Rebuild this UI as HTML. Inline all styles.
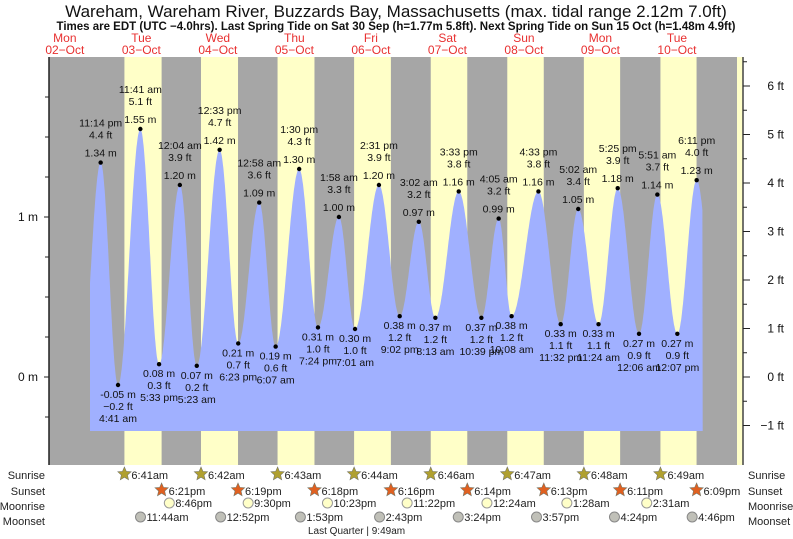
<!DOCTYPE html>
<html><head><meta charset="utf-8"><style>
body{margin:0;background:#fff;}
svg{display:block;font-family:"Liberation Sans",sans-serif;}
</style></head><body>
<svg id="chart" width="793" height="539" viewBox="0 0 793 539">
<text x="396" y="17" font-size="17" text-anchor="middle" fill="#111">Wareham, Wareham River, Buzzards Bay, Massachusetts (max. tidal range 2.12m 7.0ft)</text>
<text x="396" y="30" font-size="11.5" font-weight="bold" text-anchor="middle" fill="#111">Times are EDT (UTC −4.0hrs). Last Spring Tide on Sat 30 Sep (h=1.77m 5.8ft). Next Spring Tide on Sun 15 Oct (h=1.48m 4.9ft)</text>
<rect x="49" y="57" width="688" height="408" fill="#a6a6a6"/>
<rect x="737" y="57" width="6" height="408" fill="#ffffc8"/>
<g id="bands"></g>
<path id="water" fill="#a0b0ff"/>
<g id="labels" font-size="10.5" fill="#111" text-anchor="middle"></g>
<line x1="49" y1="57" x2="49" y2="465" stroke="#222" stroke-width="1.5"/>
<line x1="743" y1="57" x2="743" y2="465" stroke="#444" stroke-width="1.5"/>
<g id="axes" font-size="12" fill="#111"></g>
<g id="days" font-size="12" fill="#e83030" text-anchor="middle"></g>
<g id="astro" font-size="11" fill="#222"></g>
</svg>
<script>
const NS="http://www.w3.org/2000/svg";
// tide extremes: hours since Mon 02-Oct 00:00
const tideHours=[23.23,28.68,35.68,41.55,48.07,53.38,60.55,66.38,72.97,78.12,85.5,91.4,97.97,103.02,110.52,117.03,123.03,128.22,135.55,142.65,148.08,152.13,160.55,167.53,173.03,179.4,185.42,192.1,197.85,204.12,210.18];
const tideMeters=[1.34,-0.05,1.55,0.08,1.20,0.07,1.42,0.21,1.09,0.19,1.30,0.31,1.00,0.30,1.20,0.38,0.97,0.37,1.16,0.37,0.99,0.38,1.16,0.33,1.05,0.33,1.18,0.27,1.14,0.27,1.23];
const tideFeet=["4.4","−0.2","5.1","0.3","3.9","0.2","4.7","0.7","3.6","0.6","4.3","1.0","3.3","1.0","3.9","1.2","3.2","1.2","3.8","1.2","3.2","1.2","3.8","1.1","3.4","1.1","3.9","0.9","3.7","0.9","4.0"];
const tideTimes=["11:14 pm","4:41 am","11:41 am","5:33 pm","12:04 am","5:23 am","12:33 pm","6:23 pm","12:58 am","6:07 am","1:30 pm","7:24 pm","1:58 am","7:01 am","2:31 pm","9:02 pm","3:02 am","8:13 am","3:33 pm","10:39 pm","4:05 am","10:08 am","4:33 pm","11:32 pm","5:02 am","11:24 am","5:25 pm","12:06 am","5:51 am","12:07 pm","6:11 pm"];
const dayNames=["Mon","Tue","Wed","Thu","Fri","Sat","Sun","Mon","Tue"];
const dayDates=["02−Oct","03−Oct","04−Oct","05−Oct","06−Oct","07−Oct","08−Oct","09−Oct","10−Oct"];
const sunriseH=[30.68,54.70,78.72,102.73,126.77,150.78,174.80,198.82];
const sunsetH=[42.35,66.32,90.30,114.27,138.23,162.22,186.18,210.15];
const sunriseLbl=["6:41am","6:42am","6:43am","6:44am","6:46am","6:47am","6:48am","6:49am"];
const sunsetLbl=["6:21pm","6:19pm","6:18pm","6:16pm","6:14pm","6:13pm","6:11pm","6:09pm"];
const moonriseH=[44.77,69.5,94.38,119.37,144.4,169.47,194.52];
const moonriseLbl=["8:46pm","9:30pm","10:23pm","11:22pm","12:24am","1:28am","2:31am"];
const moonsetH=[35.73,60.87,85.88,110.72,135.4,159.95,184.4,208.77];
const moonsetLbl=["11:44am","12:52pm","1:53pm","2:43pm","3:24pm","3:57pm","4:24pm","4:46pm"];
const meterTicks=[0,1];
const feetTicks=[-1,0,1,2,3,4,5,6];

const X=h=>26.6+h*3.188;
const Y=m=>377-m*160;
function el(tag,attrs,parent,text){const e=document.createElementNS(NS,tag);for(const k in attrs)e.setAttribute(k,attrs[k]);if(text!==undefined)e.textContent=text;parent.appendChild(e);return e;}

// day bands
const bands=document.getElementById('bands');
for(let i=0;i<sunriseH.length;i++){
  const r=el('rect',{x:X(sunriseH[i]),y:57,width:X(sunsetH[i])-X(sunriseH[i]),height:408,fill:'#ffffc8'},bands);
  
  
}
// water curve
const ext=[{h:tideHours[0]-6.2,m:0.0}].concat(tideHours.map((h,i)=>({h,m:tideMeters[i]}))).concat([{h:216.3,m:0.3}]);
function level(t){for(let i=0;i<ext.length-1;i++){if(t>=ext[i].h&&t<=ext[i+1].h){const f=(t-ext[i].h)/(ext[i+1].h-ext[i].h);return ext[i].m+(ext[i+1].m-ext[i].m)*(1-Math.cos(Math.PI*f))/2;}}return 0;}
const t0=(90-26.6)/3.188,t1=(702.7-26.6)/3.188;
let d=`M${X(t0)},431`;
for(let t=t0;t<=t1;t+=0.1)d+=` L${X(t).toFixed(1)},${Y(level(t)).toFixed(1)}`;
d+=` L${X(t1)},431 Z`;
document.getElementById('water').setAttribute('d',d);
// labels
const lg=document.getElementById('labels');
tideHours.forEach((h,i)=>{
  const x=X(h),y=Y(tideMeters[i]);
  const dot=el('circle',{cx:x,cy:y,r:2.2,fill:'#000'},lg);
  
  
  const high=i%2===0;
  const ys=high?[y-36,y-24,y-6]:[y+37,y+25,y+13];
  const t1e=el('text',{x:x,y:ys[0]},lg,tideTimes[i]);
  
  
  const t2e=el('text',{x:x,y:ys[1]},lg,tideFeet[i]+" ft");
  
  
  const t3e=el('text',{x:x,y:ys[2]},lg,tideMeters[i].toFixed(2)+" m");
  
  
});
// axes
const ax=document.getElementById('axes');
meterTicks.forEach(m=>{
  const y=Y(m);
  el('line',{x1:44,y1:y,x2:49,y2:y,stroke:'#222'},ax);
  const t=el('text',{x:38,y:y+4,'text-anchor':'end'},ax,m+" m");
  
  
});
for(let m=-0.25;m<=1.75;m+=0.25){el('line',{x1:45,y1:Y(m),x2:49,y2:Y(m),stroke:'#222'},ax);}
feetTicks.forEach(f=>{
  const y=377-f*48.5;
  el('line',{x1:743,y1:y,x2:750,y2:y,stroke:'#222'},ax);
  el('line',{x1:743,y1:y-24.25,x2:747,y2:y-24.25,stroke:'#222'},ax);
  const t=el('text',{x:784,y:y+4,'text-anchor':'end'},ax,(f<0?"−"+(-f):f)+" ft");
  
  
});
// day labels
const dg=document.getElementById('days');
dayNames.forEach((n,i)=>{
  const x=X(i*24+12);
  const a=el('text',{x:x,y:42},dg,n);
  
  
  const b=el('text',{x:x,y:54},dg,dayDates[i]);
  
  
});
// astro rows
const ag=document.getElementById('astro');
const rows=[["Sunrise",475],["Sunset",491],["Moonrise",506],["Moonset",521]];
rows.forEach(([n,y])=>{
  const a=el('text',{x:45,y:y+4,'text-anchor':'end'},ag,n);
  
  
  const b=el('text',{x:748,y:y+4},ag,n);
  
  
});
function star(x,y,fill){let p="";for(let k=0;k<10;k++){const r=k%2?3.2:7,a=-Math.PI/2+k*Math.PI/5;p+=(x+r*Math.cos(a)).toFixed(1)+","+(y+r*Math.sin(a)).toFixed(1)+" ";}return el('polygon',{points:p,fill:fill,stroke:'#776',"stroke-width":0.6},ag);}
sunriseH.forEach((h,i)=>{const x=X(h);const s=star(x,474,'#b0a030');const t=el('text',{x:x+7,y:479},ag,sunriseLbl[i]);});
sunsetH.forEach((h,i)=>{const x=X(h);const s=star(x,490,'#e06020');const t=el('text',{x:x+7,y:495},ag,sunsetLbl[i]);});
moonriseH.forEach((h,i)=>{const x=X(h);const c=el('circle',{cx:x,cy:503,r:5,fill:'#ffffc8',stroke:'#999'},ag);const t=el('text',{x:x+6,y:507},ag,moonriseLbl[i]);});
moonsetH.forEach((h,i)=>{const x=X(h);const c=el('circle',{cx:x,cy:517,r:5,fill:'#c0c0b8',stroke:'#888'},ag);const t=el('text',{x:x+6,y:521},ag,moonsetLbl[i]);});
const lq=el('text',{x:308,y:534,'font-size':'10'},ag,"Last Quarter | 9:49am");


</script>
</body></html>
